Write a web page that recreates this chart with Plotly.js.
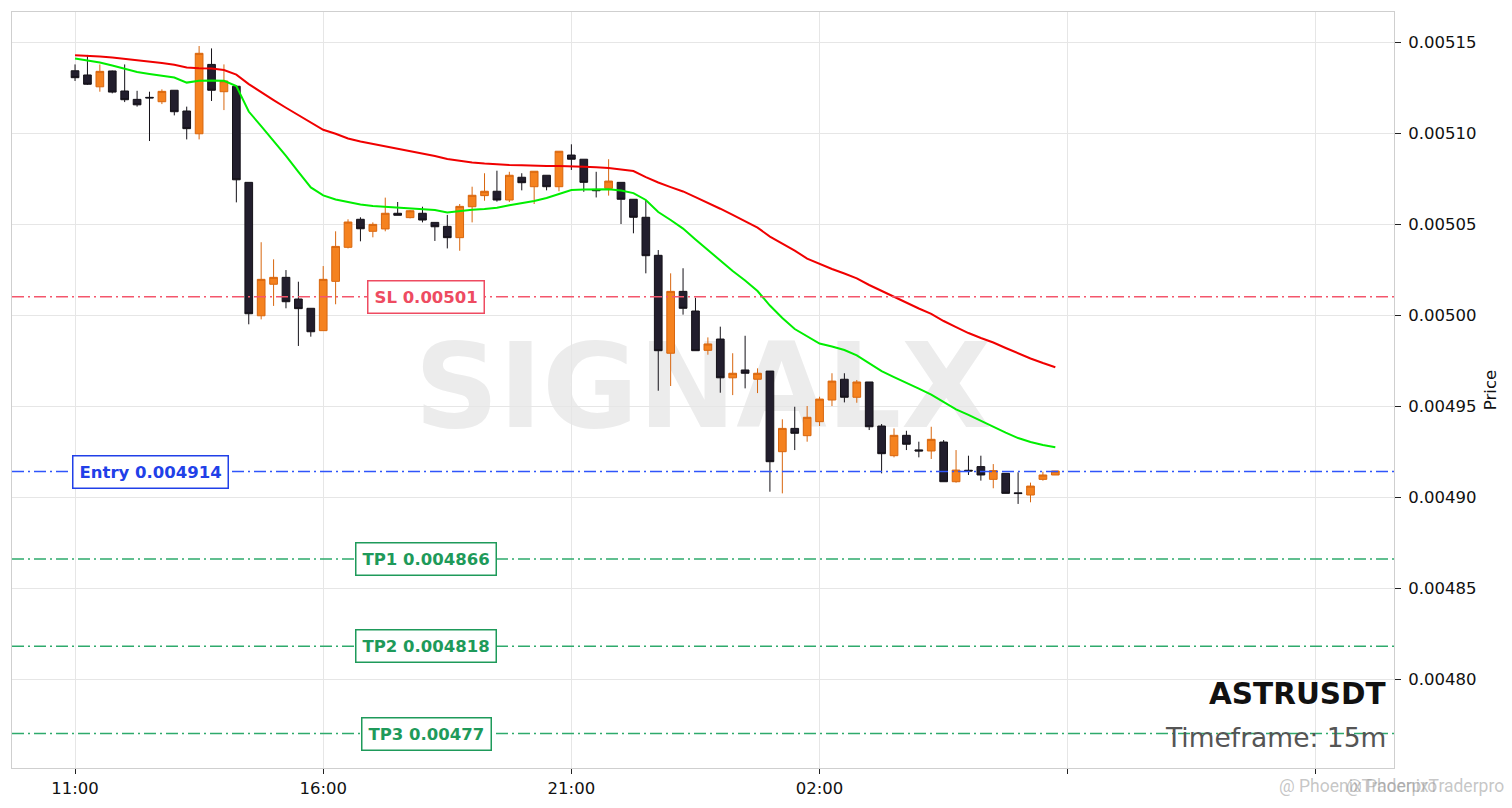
<!DOCTYPE html>
<html>
<head>
<meta charset="utf-8">
<script src="https://cdn.plot.ly/plotly-3.0.1.min.js"></script>
<style>
  html, body { margin: 0; padding: 0; background: #ffffff; }
  #chart { width: 1512px; height: 808px; }
</style>
</head>
<body>
<div id="chart"></div>
<script>
// ---------- data ----------
const symbol = 'ASTRUSDT';
const timeframe = '15m';
const startDay = '2025-10-20';
const startMinute = 11 * 60;   // first candle 11:00
const stepMinutes = 15;

const open = [
  0.0051342, 0.0051319, 0.0051254, 0.0051341, 0.0051231, 0.0051185, 0.0051196, 0.0051172, 0.0051235, 0.0051121,
  0.0050996, 0.0051377, 0.0051227, 0.0051257, 0.0050729, 0.0049996, 0.0050169, 0.0050207, 0.0050088, 0.0050037,
  0.0049914, 0.0050185, 0.0050372, 0.0050526, 0.0050460, 0.0050473, 0.0050559, 0.0050535, 0.0050559, 0.0050509,
  0.0050487, 0.0050425, 0.0050595, 0.0050656, 0.0050680, 0.0050632, 0.0050757, 0.0050705, 0.0050768, 0.0050705,
  0.0050879, 0.0050856, 0.0050690, 0.0050696, 0.0050729, 0.0050636, 0.0050537, 0.0050328, 0.0049790, 0.0050130,
  0.0050022, 0.0049806, 0.0049868, 0.0049655, 0.0049698, 0.0049647, 0.0049692, 0.0049249, 0.0049377, 0.0049337,
  0.0049414, 0.0049533, 0.0049647, 0.0049548, 0.0049632, 0.0049390, 0.0049227, 0.0049339, 0.0049259, 0.0049253,
  0.0049302, 0.0049084, 0.0049147, 0.0049167, 0.0049097, 0.0049130, 0.0049023, 0.0049011, 0.0049097, 0.0049121
];
const high = [
  0.0051377, 0.0051429, 0.0051377, 0.0051343, 0.0051377, 0.0051232, 0.0051227, 0.0051240, 0.0051235, 0.0051145,
  0.0051478, 0.0051465, 0.0051377, 0.0051257, 0.0050729, 0.0050400, 0.0050306, 0.0050247, 0.0050183, 0.0050037,
  0.0050269, 0.0050460, 0.0050526, 0.0050537, 0.0050509, 0.0050645, 0.0050621, 0.0050577, 0.0050595, 0.0050509,
  0.0050550, 0.0050610, 0.0050705, 0.0050779, 0.0050793, 0.0050787, 0.0050779, 0.0050790, 0.0050768, 0.0050900,
  0.0050938, 0.0050856, 0.0050787, 0.0050856, 0.0050729, 0.0050636, 0.0050632, 0.0050357, 0.0050229, 0.0050257,
  0.0050095, 0.0049877, 0.0049936, 0.0049790, 0.0049886, 0.0049707, 0.0049692, 0.0049427, 0.0049496, 0.0049500,
  0.0049551, 0.0049680, 0.0049680, 0.0049643, 0.0049632, 0.0049401, 0.0049377, 0.0049364, 0.0049304, 0.0049386,
  0.0049313, 0.0049258, 0.0049227, 0.0049227, 0.0049181, 0.0049130, 0.0049136, 0.0049079, 0.0049139, 0.0049143
];
const low = [
  0.0051286, 0.0051264, 0.0051227, 0.0051218, 0.0051170, 0.0051145, 0.0050956, 0.0051159, 0.0051097, 0.0050965,
  0.0050965, 0.0051176, 0.0051126, 0.0050619, 0.0049949, 0.0049976, 0.0050050, 0.0050037, 0.0049830, 0.0049881,
  0.0049914, 0.0050059, 0.0050366, 0.0050405, 0.0050427, 0.0050460, 0.0050548, 0.0050531, 0.0050509, 0.0050407,
  0.0050366, 0.0050353, 0.0050509, 0.0050628, 0.0050623, 0.0050621, 0.0050685, 0.0050610, 0.0050685, 0.0050680,
  0.0050797, 0.0050677, 0.0050646, 0.0050656, 0.0050500, 0.0050449, 0.0050229, 0.0049584, 0.0049610, 0.0050002,
  0.0049804, 0.0049782, 0.0049573, 0.0049560, 0.0049597, 0.0049571, 0.0049029, 0.0049020, 0.0049258, 0.0049304,
  0.0049390, 0.0049500, 0.0049520, 0.0049518, 0.0049368, 0.0049130, 0.0049218, 0.0049258, 0.0049218, 0.0049209,
  0.0049084, 0.0049079, 0.0049121, 0.0049090, 0.0049048, 0.0049020, 0.0048962, 0.0048971, 0.0049090, 0.0049121
];
const close = [
  0.0051304, 0.0051268, 0.0051339, 0.0051225, 0.0051183, 0.0051155, 0.0051193, 0.0051229, 0.0051117, 0.0051024,
  0.0051438, 0.0051235, 0.0051286, 0.0050743, 0.0050007, 0.0050196, 0.0050207, 0.0050073, 0.0050035, 0.0049908,
  0.0050196, 0.0050377, 0.0050511, 0.0050474, 0.0050498, 0.0050559, 0.0050548, 0.0050573, 0.0050522, 0.0050485,
  0.0050425, 0.0050597, 0.0050658, 0.0050680, 0.0050632, 0.0050768, 0.0050727, 0.0050790, 0.0050705, 0.0050900,
  0.0050856, 0.0050729, 0.0050683, 0.0050736, 0.0050636, 0.0050537, 0.0050326, 0.0049804, 0.0050130, 0.0050037,
  0.0049804, 0.0049841, 0.0049655, 0.0049680, 0.0049680, 0.0049680, 0.0049194, 0.0049377, 0.0049350, 0.0049438,
  0.0049538, 0.0049637, 0.0049548, 0.0049632, 0.0049386, 0.0049238, 0.0049339, 0.0049290, 0.0049253, 0.0049317,
  0.0049084, 0.0049148, 0.0049143, 0.0049121, 0.0049145, 0.0049020, 0.0049019, 0.0049060, 0.0049121, 0.0049143
];
// slow moving average (red)
const maSlow = [
  0.0051427, 0.0051425, 0.0051420, 0.0051415, 0.0051408, 0.0051399, 0.0051392, 0.0051385, 0.0051375, 0.0051360,
  0.0051356, 0.0051354, 0.0051346, 0.0051321, 0.0051269, 0.0051224, 0.0051181, 0.0051139, 0.0051098, 0.0051059,
  0.0051018, 0.0050996, 0.0050970, 0.0050953, 0.0050940, 0.0050926, 0.0050912, 0.0050898, 0.0050887, 0.0050874,
  0.0050857, 0.0050846, 0.0050838, 0.0050832, 0.0050827, 0.0050824, 0.0050823, 0.0050820, 0.0050819, 0.0050819,
  0.0050819, 0.0050815, 0.0050812, 0.0050808, 0.0050799, 0.0050791, 0.0050758, 0.0050728, 0.0050703, 0.0050679,
  0.0050648, 0.0050618, 0.0050584, 0.0050550, 0.0050515, 0.0050480, 0.0050431, 0.0050393, 0.0050354, 0.0050310,
  0.0050280, 0.0050253, 0.0050228, 0.0050201, 0.0050165, 0.0050132, 0.0050099, 0.0050066, 0.0050036, 0.0050006,
  0.0049967, 0.0049934, 0.0049901, 0.0049874, 0.0049849, 0.0049819, 0.0049789, 0.0049761, 0.0049736, 0.0049713
];
// fast moving average (green)
const maFast = [
  0.0051409, 0.0051398, 0.0051387, 0.0051371, 0.0051352, 0.0051335, 0.0051324, 0.0051316, 0.0051305, 0.0051277,
  0.0051287, 0.0051288, 0.0051287, 0.0051258, 0.0051118, 0.0051038, 0.0050959, 0.0050874, 0.0050786, 0.0050701,
  0.0050657, 0.0050635, 0.0050621, 0.0050607, 0.0050599, 0.0050595, 0.0050592, 0.0050589, 0.0050585, 0.0050577,
  0.0050563, 0.0050571, 0.0050578, 0.0050582, 0.0050590, 0.0050603, 0.0050615, 0.0050626, 0.0050643, 0.0050665,
  0.0050687, 0.0050690, 0.0050691, 0.0050691, 0.0050684, 0.0050670, 0.0050632, 0.0050566, 0.0050522, 0.0050475,
  0.0050415, 0.0050357, 0.0050299, 0.0050242, 0.0050190, 0.0050132, 0.0050052, 0.0049984, 0.0049923, 0.0049882,
  0.0049843, 0.0049827, 0.0049808, 0.0049778, 0.0049734, 0.0049692, 0.0049659, 0.0049629, 0.0049596, 0.0049563,
  0.0049522, 0.0049481, 0.0049451, 0.0049418, 0.0049385, 0.0049354, 0.0049324, 0.0049302, 0.0049286, 0.0049273
];

// trade levels
const levelNames  = ['SL', 'Entry', 'TP1', 'TP2', 'TP3'];
const levelPrices = [0.00501, 0.004914, 0.004866, 0.004818, 0.00477];
const levelColors = ['#f4566c', '#2f55fb', '#2eaa6c', '#2eaa6c', '#2eaa6c'];
const labelColors = ['#ee4b61', '#2140e8', '#1e9a5a', '#1e9a5a', '#1e9a5a'];
const labelX      = [0.2996, 0.0999, 0.2996, 0.2996, 0.2996];

// axes
const yTicks = [0.0048, 0.00485, 0.0049, 0.00495, 0.005, 0.00505, 0.0051, 0.00515];
const xTickVals = ['2025-10-20 11:00', '2025-10-20 16:00', '2025-10-20 21:00', '2025-10-21 02:00', '2025-10-21 07:00', '2025-10-21 12:00'];
const xTickText = ['11:00', '16:00', '21:00', '02:00', '', ''];
const xRange = ['2025-10-20 09:43:48', '2025-10-21 13:34:24'];
const yRange = [0.0047511, 0.0051665];

// ---------- build ----------
function pad(n) { return (n < 10 ? '0' : '') + n; }
const times = open.map((_, i) => {
  const m = startMinute + i * stepMinutes;
  const dayOffset = Math.floor(m / 1440);
  const mm = m % 1440;
  const d = new Date(startDay + 'T00:00:00Z');
  d.setUTCDate(d.getUTCDate() + dayOffset);
  const ds = d.getUTCFullYear() + '-' + pad(d.getUTCMonth() + 1) + '-' + pad(d.getUTCDate());
  return ds + ' ' + pad(Math.floor(mm / 60)) + ':' + pad(mm % 60);
});

const FONT = 'DejaVu Sans, Verdana, sans-serif';

const traces = [
  {
    type: 'candlestick', x: times, open: open, high: high, low: low, close: close,
    increasing: { line: { color: '#d8660e', width: 1 }, fillcolor: '#f5821f' },
    decreasing: { line: { color: '#141118', width: 1 }, fillcolor: '#221e2d' },
    whiskerwidth: 0, hoverinfo: 'skip', showlegend: false
  },
  {
    type: 'scatter', mode: 'lines', x: times, y: maSlow,
    line: { color: '#f00000', width: 2, shape: 'linear' }, hoverinfo: 'skip', showlegend: false
  },
  {
    type: 'scatter', mode: 'lines', x: times, y: maFast,
    line: { color: '#00ee00', width: 2, shape: 'linear' }, hoverinfo: 'skip', showlegend: false
  }
];

const shapes = [
  {
    type: 'rect', xref: 'paper', yref: 'paper', x0: 0.25, x1: 0.75, y0: 0.40, y1: 0.63,
    line: { width: 0 }, fillcolor: 'rgba(0,0,0,0)', layer: 'below',
    label: { text: '<b>SIGNALX</b>', textposition: 'middle center', font: { family: FONT, size: 117, color: '#ececec' } }
  }
];
levelPrices.forEach((p, i) => {
  shapes.push({
    type: 'line', xref: 'paper', x0: 0, x1: 1, yref: 'y', y0: p, y1: p,
    line: { color: levelColors[i], width: 1.5, dash: '12px,4px,2px,4px' }, layer: 'above'
  });
});

const annotations = levelPrices.map((p, i) => ({
  xref: 'paper', x: labelX[i], yref: 'y', y: p,
  text: '<b>' + levelNames[i] + ' ' + p + '</b>',
  showarrow: false, xanchor: 'center', yanchor: 'middle',
  font: { family: FONT, size: 16.5, color: labelColors[i] },
  bgcolor: '#ffffff', bordercolor: labelColors[i], borderwidth: 1.5, borderpad: 6
}));
annotations.push({
  xref: 'paper', yref: 'paper', x: 0.9957, y: 0.098, xanchor: 'right', yanchor: 'middle',
  text: '<b>' + symbol + '</b>', showarrow: false,
  font: { family: FONT, size: 29.5, color: '#111111' }
});
annotations.push({
  xref: 'paper', yref: 'paper', x: 0.9957, y: 0.040, xanchor: 'right', yanchor: 'middle',
  text: 'Timeframe: ' + timeframe, showarrow: false,
  font: { family: FONT, size: 26.5, color: '#555555' }
});
// overlaid image watermark (two copies)
[0.9155, 0.9635].forEach(xp => {
  annotations.push({
    xref: 'paper', yref: 'paper', x: xp, y: -0.024, xanchor: 'left', yanchor: 'middle',
    text: '@ PhoenixTraderpro', showarrow: false,
    font: { family: 'Roboto, sans-serif', size: 17.5, color: 'rgba(150,150,150,0.55)' }
  });
});

const layout = {
  width: 1512, height: 808,
  margin: { l: 12, r: 118, t: 12, b: 40, pad: 0 },
  paper_bgcolor: '#ffffff', plot_bgcolor: '#ffffff',
  font: { family: FONT, size: 16.5, color: '#111111' },
  showlegend: false,
  boxgap: 0.38, boxgroupgap: 0,
  hovermode: false,
  xaxis: {
    type: 'date', range: xRange,
    tickmode: 'array', tickvals: xTickVals, ticktext: xTickText,
    ticks: 'outside', ticklen: 5, tickwidth: 1, tickcolor: '#222222',
    showgrid: true, gridcolor: '#e6e6e6', gridwidth: 1,
    showline: true, linecolor: '#cfcfcf', linewidth: 1, mirror: true,
    zeroline: false, rangeslider: { visible: false },
    tickfont: { family: FONT, size: 16.5, color: '#111111' }
  },
  yaxis: {
    side: 'right', range: yRange,
    tickmode: 'array', tickvals: yTicks, tickformat: '.5f',
    ticks: 'outside', ticklen: 6, tickwidth: 1, tickcolor: '#222222',
    ticklabelstandoff: 4,
    showgrid: true, gridcolor: '#e6e6e6', gridwidth: 1,
    showline: true, linecolor: '#cfcfcf', linewidth: 1, mirror: true,
    zeroline: false,
    tickfont: { family: FONT, size: 16.5, color: '#111111' },
    title: { text: 'Price', font: { family: FONT, size: 16.5, color: '#111111' }, standoff: 8 }
  },
  shapes: shapes,
  annotations: annotations
};

Plotly.newPlot('chart', traces, layout, { displayModeBar: false, staticPlot: true });
</script>
</body>
</html>
